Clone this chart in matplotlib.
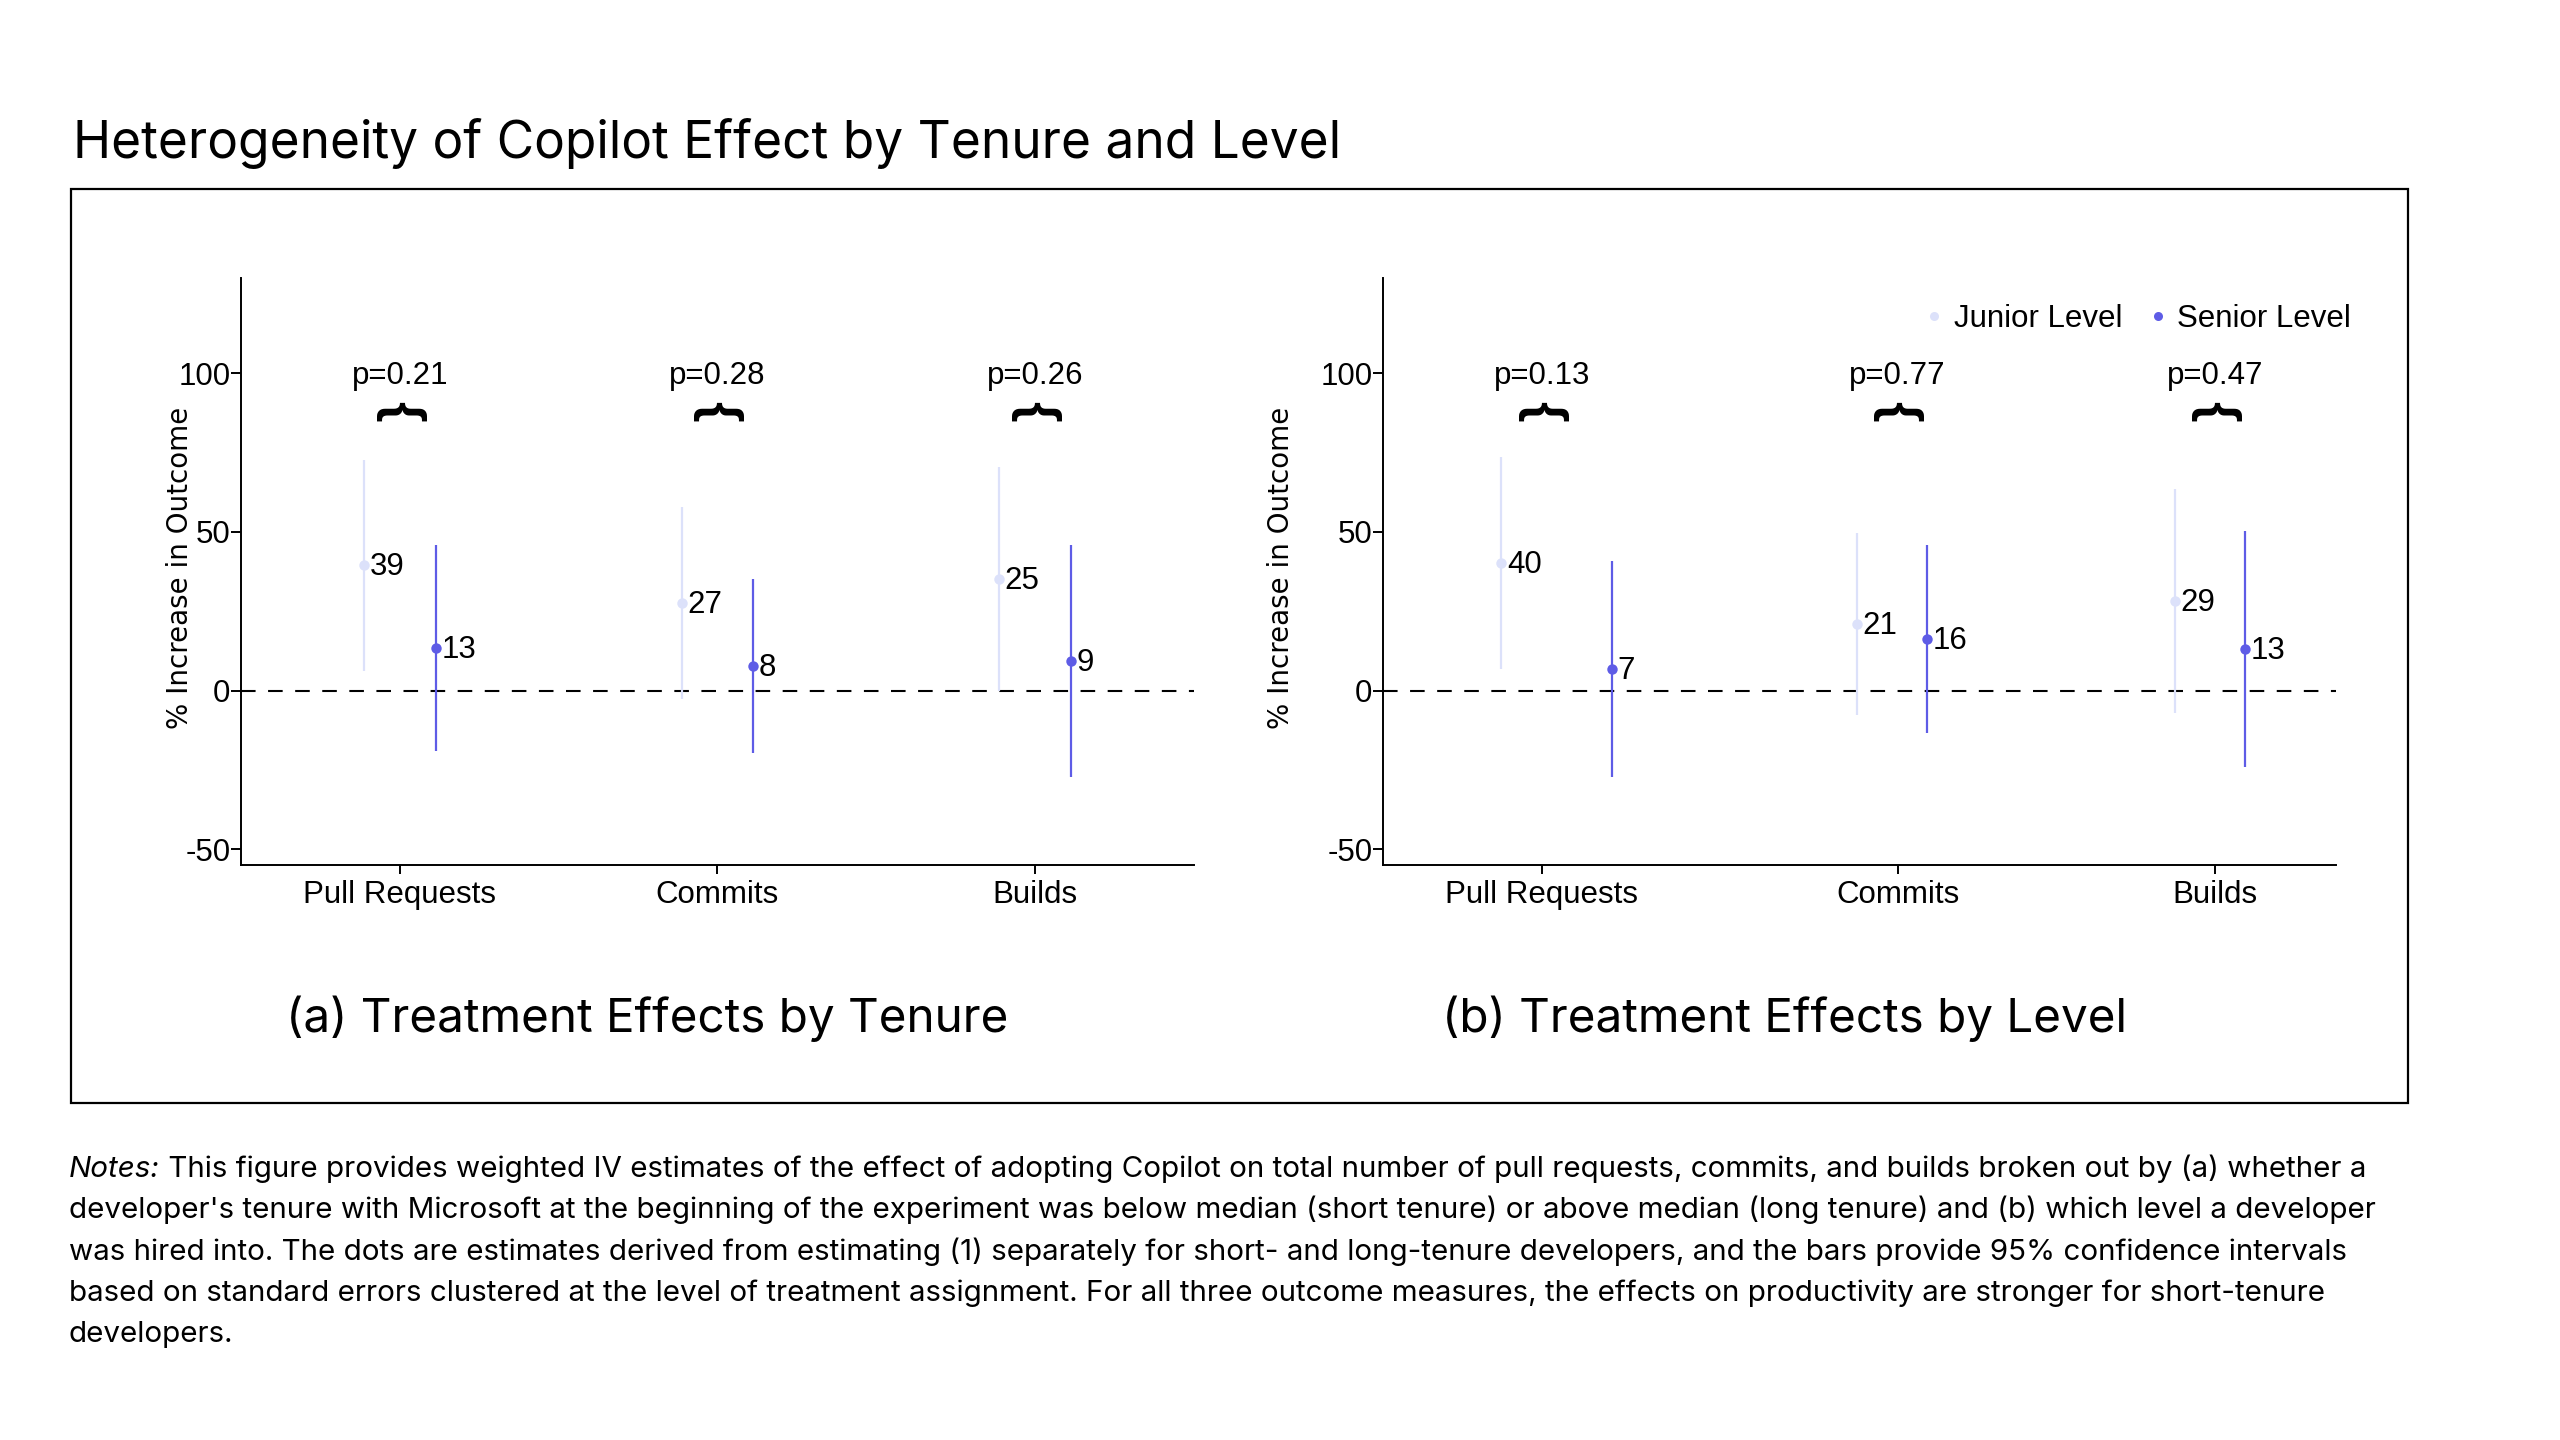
import matplotlib
matplotlib.use("Agg")
import matplotlib.pyplot as plt
import numpy as np
from matplotlib.lines import Line2D
from matplotlib.patches import Rectangle

plt.rcParams['axes.unicode_minus'] = False

# data
categories = ["Pull Requests", "Commits", "Builds"]

# (a) by tenure
tenure_short = [39.5, 27.5, 35.1]
tenure_short_lo = [6.1, -2.7, 0.0]
tenure_short_hi = [72.8, 57.7, 70.4]
tenure_short_lbl = ["39", "27", "25"]
tenure_long = [13.3, 7.6, 9.3]
tenure_long_lo = [-19.1, -19.7, -27.2]
tenure_long_hi = [46.0, 35.1, 46.0]
tenure_long_lbl = ["13", "8", "9"]
tenure_p = ["p=0.21", "p=0.28", "p=0.26"]

# (b) by level
level_junior = [40.2, 20.9, 28.1]
level_junior_lo = [6.7, -7.6, -7.2]
level_junior_hi = [73.6, 49.6, 63.5]
level_junior_lbl = ["40", "21", "29"]
level_senior = [6.7, 16.2, 13.1]
level_senior_lo = [-27.2, -13.3, -24.1]
level_senior_hi = [40.8, 46.0, 50.4]
level_senior_lbl = ["7", "16", "13"]
level_p = ["p=0.13", "p=0.77", "p=0.47"]

LIGHT = "#dce1fa"
DARK = "#5e5ce6"
CHART_FONT = "Liberation Sans"
TEXT_FONT = "Inter"
FS = 22.5

fig = plt.figure(figsize=(25.6, 14.4), dpi=100)

# outer frame
fig.patches.append(Rectangle((0.0277, 0.234), 0.9129, 0.6348, transform=fig.transFigure,
                             fill=False, edgecolor="black", linewidth=1.6))

fig.text(0.0285, 0.8903, "Heterogeneity of Copilot Effect by Tenure and Level",
         fontsize=37, family=TEXT_FONT, va="baseline", ha="left")


def panel(ax, xpos, off_a, off_b, a, a_lo, a_hi, a_lbl, b, b_lo, b_hi, b_lbl, pvals, ylab_x):
    xpos = np.asarray(xpos)
    a, a_lo, a_hi = map(np.asarray, (a, a_lo, a_hi))
    b, b_lo, b_hi = map(np.asarray, (b, b_lo, b_hi))
    xa = xpos + np.asarray(off_a)
    xb = xpos + np.asarray(off_b)

    ax.axhline(0, color="black", lw=1.5, linestyle=(0, (7, 6)), zorder=1)
    ax.errorbar(xa, a, yerr=[a - a_lo, a_hi - a], fmt="o", color=LIGHT, ms=7.5, mew=0,
                elinewidth=1.6, capsize=7, capthick=1.6, zorder=3)
    ax.errorbar(xb, b, yerr=[b - b_lo, b_hi - b], fmt="o", color=DARK, ms=7.5, mew=0,
                elinewidth=1.6, capsize=7, capthick=1.6, zorder=3)

    for x, y, t in zip(xa, a, a_lbl):
        ax.annotate(t, (x, y), xytext=(4, -1.5), textcoords="offset points",
                    ha="left", va="center", fontsize=FS, family=CHART_FONT, zorder=4)
    for x, y, t in zip(xb, b, b_lbl):
        ax.annotate(t, (x, y), xytext=(4, -1.5), textcoords="offset points",
                    ha="left", va="center", fontsize=FS, family=CHART_FONT, zorder=4)

    for x, p in zip(xpos, pvals):
        ax.text(x, 99, p, ha="center", va="center", fontsize=FS, family=CHART_FONT)
        ax.text(x, 88, "{", rotation=-90, ha="center", va="center", fontsize=38,
                family=CHART_FONT, fontweight="bold")

    ax.set_xlim(-0.5, 2.5)
    ax.set_ylim(-55, 130)
    ax.set_xticks(xpos)
    ax.set_xticklabels(categories, fontsize=FS, family=CHART_FONT)
    ax.set_yticks([-50, 0, 50, 100])
    ax.set_yticklabels(["-50", "0", "50", "100"], fontsize=FS, family=CHART_FONT)
    ax.tick_params(axis="y", length=7, width=1.4, pad=0.5)
    ax.tick_params(axis="x", length=6.5, width=1.4, pad=4)
    for s in ["top", "right"]:
        ax.spines[s].set_visible(False)
    for s in ["left", "bottom"]:
        ax.spines[s].set_linewidth(1.4)
    ax.set_ylabel("% Increase in Outcome", fontsize=20, family="DejaVu Sans")
    ax.yaxis.set_label_coords(ylab_x, 0.507)


ax1 = fig.add_axes([0.0941, 0.3993, 0.3723, 0.4076])
ax2 = fig.add_axes([0.5402, 0.3993, 0.3723, 0.4076])

panel(ax1, [0, 1, 2], [-0.113] * 3, [0.113] * 3,
      tenure_short, tenure_short_lo, tenure_short_hi, tenure_short_lbl,
      tenure_long, tenure_long_lo, tenure_long_hi, tenure_long_lbl, tenure_p, -0.049)
panel(ax2, [0, 1.12, 2.12], [-0.127] * 3, [0.22, 0.093, 0.093],
      level_junior, level_junior_lo, level_junior_hi, level_junior_lbl,
      level_senior, level_senior_lo, level_senior_hi, level_senior_lbl, level_p, -0.092)

handles = [Line2D([], [], marker="o", ls="none", color=LIGHT, ms=6.5, mew=0),
           Line2D([], [], marker="o", ls="none", color=DARK, ms=6.5, mew=0)]
ax2.legend(handles, ["Junior Level", "Senior Level"], loc="center right",
           bbox_to_anchor=(1.016, 0.93), ncol=2, frameon=False,
           prop={"family": CHART_FONT, "size": FS}, handlelength=0.4, handletextpad=0.42,
           columnspacing=0.95, borderaxespad=0, borderpad=0)

fig.text(647.5 / 2560, 1 - 1032 / 1440, "(a) Treatment Effects by Tenure", fontsize=34.3,
         family=TEXT_FONT, ha="center", va="baseline")
fig.text(1785 / 2560, 1 - 1032 / 1440, "(b) Treatment Effects by Level", fontsize=34.3,
         family=TEXT_FONT, ha="center", va="baseline")

# notes
notes_lines = [
    " This figure provides weighted IV estimates of the effect of adopting Copilot on total number of pull requests, commits, and builds broken out by (a) whether a",
    "developer's tenure with Microsoft at the beginning of the experiment was below median (short tenure) or above median (long tenure) and (b) which level a developer",
    "was hired into. The dots are estimates derived from estimating (1) separately for short- and long-tenure developers, and the bars provide 95% confidence intervals",
    "based on standard errors clustered at the level of treatment assignment. For all three outcome measures, the effects on productivity are stronger for short-tenure",
    "developers.",
]
note_x = 69 / 2560
first_base = 1177
step = 41.25
NFS = 21.3
lbl = fig.text(note_x, 1 - first_base / 1440, "Notes:", fontsize=NFS, family=TEXT_FONT,
               style="italic", ha="left", va="baseline")
fig.canvas.draw()
bb = lbl.get_window_extent()
fig.text(bb.x1 / 2560, 1 - first_base / 1440, notes_lines[0], fontsize=NFS,
         family=TEXT_FONT, ha="left", va="baseline")
for i, line in enumerate(notes_lines[1:], start=1):
    fig.text(note_x, 1 - (first_base + i * step) / 1440, line, fontsize=NFS,
             family=TEXT_FONT, ha="left", va="baseline")

fig.savefig("out.png", dpi=100)
